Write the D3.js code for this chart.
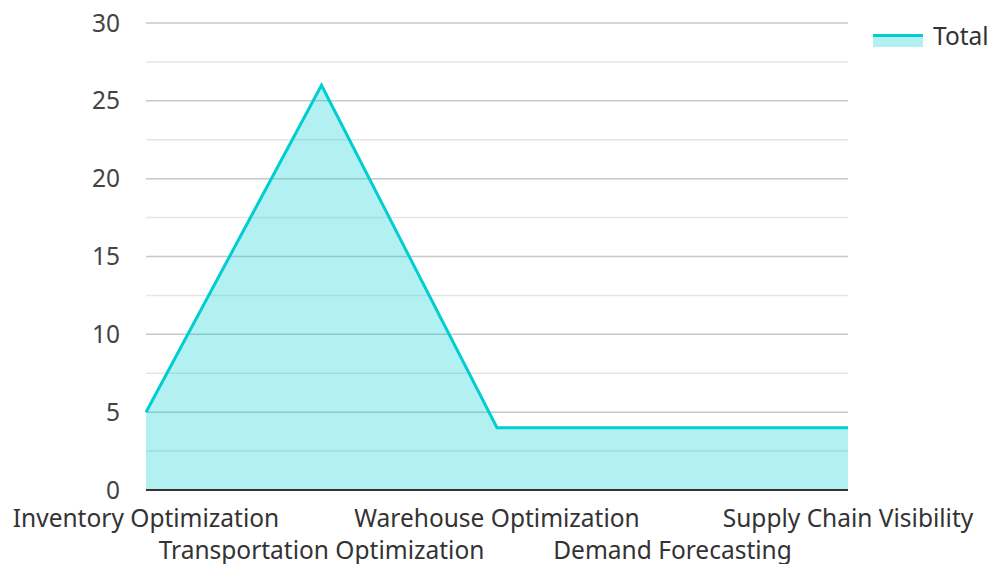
<!DOCTYPE html>
<html><head><meta charset="utf-8">
<script src="https://cdn.jsdelivr.net/npm/d3@7"></script>
<style>body{margin:0;background:#fff;} text{font-family:"Noto Sans","Open Sans",sans-serif;}</style>
</head><body>
<svg id="c" width="989" height="564"></svg>
<script>
const categories = ["Inventory Optimization","Transportation Optimization","Warehouse Optimization","Demand Forecasting","Supply Chain Visibility"];
const totals = [5, 26, 4, 4, 4];
const majorTicks = [0, 5, 10, 15, 20, 25, 30];
const minorTicks = [2.5, 7.5, 12.5, 17.5, 22.5, 27.5];
const seriesName = "Total";

(function () {
const svg = d3.select("#c");
const pLeft = 146, pRight = 848, pTop = 23, pBottom = 490;
const fs = 24.5;
const x = d3.scalePoint().domain(categories).range([pLeft, pRight]);
const y = d3.scaleLinear().domain([0, 30]).range([pBottom, pTop]);
const lineColor = "#00ced1";
const fillColor = "rgba(0,206,209,0.3)";

svg.append("g").selectAll("line").data(minorTicks).join("line")
  .attr("x1", pLeft).attr("x2", pRight).attr("y1", d => y(d)).attr("y2", d => y(d))
  .attr("stroke", "#e6e6e6").attr("stroke-width", 1.5);
svg.append("g").selectAll("line").data(majorTicks.filter(d => d > 0)).join("line")
  .attr("x1", pLeft).attr("x2", pRight).attr("y1", d => y(d)).attr("y2", d => y(d))
  .attr("stroke", "#c8c8c8").attr("stroke-width", 1.5);

const data = categories.map((c, i) => ({c, v: totals[i]}));
svg.append("path").datum(data)
  .attr("d", d3.area().x(d => x(d.c)).y0(y(0)).y1(d => y(d.v)))
  .attr("fill", fillColor);
svg.append("path").datum(data)
  .attr("d", d3.line().x(d => x(d.c)).y(d => y(d.v)))
  .attr("fill", "none").attr("stroke", lineColor).attr("stroke-width", 3);

svg.append("line").attr("x1", pLeft).attr("x2", pRight).attr("y1", y(0)).attr("y2", y(0))
  .attr("stroke", "#333").attr("stroke-width", 2);

svg.append("g").selectAll("text").data(majorTicks).join("text")
  .attr("x", 120).attr("y", d => y(d)).attr("dy", "0.35em")
  .attr("text-anchor", "end").attr("font-size", fs).attr("fill", "#444")
  .text(d => d);

svg.append("g").selectAll("text").data(categories).join("text")
  .attr("x", d => x(d)).attr("y", (d, i) => i % 2 === 0 ? 527 : 559)
  .attr("text-anchor", "middle").attr("font-size", fs).attr("fill", "#333")
  .text(d => d);

const lg = svg.append("g");
lg.append("rect").attr("x", 873).attr("y", 34).attr("width", 50).attr("height", 13).attr("fill", fillColor);
lg.append("line").attr("x1", 873).attr("x2", 923).attr("y1", 35.5).attr("y2", 35.5).attr("stroke", lineColor).attr("stroke-width", 3);
lg.append("text").attr("x", 933).attr("y", 36).attr("dy", "0.35em").attr("font-size", fs).attr("fill", "#333").text(seriesName);
})();
</script>
</body></html>
